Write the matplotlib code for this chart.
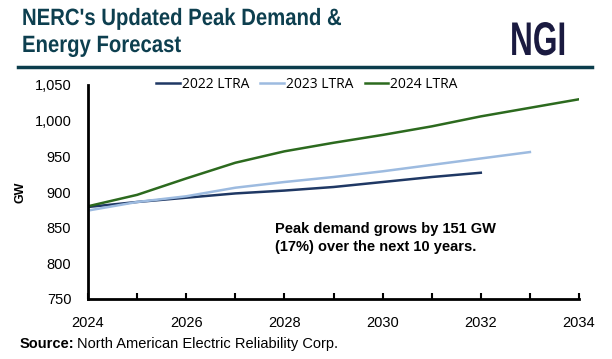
import numpy as np
import matplotlib.pyplot as plt
from matplotlib.patheffects import AbstractPathEffect
from matplotlib.transforms import Affine2D

plt.rcParams['font.family'] = ['Liberation Sans', 'DejaVu Sans']

years_2022 = [2024, 2025, 2026, 2027, 2028, 2029, 2030, 2031, 2032]
ltra_2022 = [879, 886, 892, 898, 902, 907, 914, 921, 927]

years_2023 = [2024, 2025, 2026, 2027, 2028, 2029, 2030, 2031, 2032, 2033]
ltra_2023 = [874, 886, 894, 906, 914, 921, 929, 938, 947, 956]

years_2024 = [2024, 2025, 2026, 2027, 2028, 2029, 2030, 2031, 2032, 2033, 2034]
ltra_2024 = [880, 896, 919, 941, 957, 969, 980, 992, 1006, 1018, 1030]

y_ticks = [750, 800, 850, 900, 950, 1000, 1050]
x_labels = [2024, 2026, 2028, 2030, 2032, 2034]

W, H = 612, 359


class Squeeze(AbstractPathEffect):
    # narrows the glyphs horizontally around a fixed pixel x (condensed look)
    def __init__(self, sx, x0):
        super().__init__()
        self.sx = sx
        self.x0 = x0

    def draw_path(self, renderer, gc, tpath, affine, rgbFace=None):
        affine = affine + Affine2D().translate(-self.x0, 0).scale(self.sx, 1).translate(self.x0, 0)
        renderer.draw_path(gc, tpath, affine, rgbFace)


fig = plt.figure(figsize=(W/100, H/100), dpi=100)
ax = fig.add_axes([88/W, 1-299/H, (579-88)/W, (299-85)/H])

ax.plot(years_2022, ltra_2022, color='#1f3864', lw=1.8, label='2022 LTRA')
ax.plot(years_2023, ltra_2023, color='#9dbbe0', lw=1.8, label='2023 LTRA')
ax.plot(years_2024, ltra_2024, color='#2c6a1e', lw=1.8, label='2024 LTRA')

ax.set_xlim(2024, 2034)
ax.set_ylim(750, 1050)
ax.set_yticks(y_ticks)
ax.set_yticklabels([f'{v:,}' for v in y_ticks], fontsize=10.5)
ax.set_xticks(np.arange(2024, 2035, 1))
ax.set_xticklabels([str(y) if y in x_labels else '' for y in range(2024, 2035)], fontsize=10.5)
ax.tick_params(axis='x', direction='in', length=4, width=1.5, pad=12)
ax.tick_params(axis='y', length=0, pad=12)

for s in ['top', 'right']:
    ax.spines[s].set_visible(False)
for s in ['left', 'bottom']:
    ax.spines[s].set_linewidth(2)

ax.set_ylabel('GW', fontsize=9, fontweight='bold')
ax.yaxis.set_label_coords((27-88)/(579-88), 0.5)

ax.legend(loc='upper center', bbox_to_anchor=(0.446, 1.095), ncol=3, frameon=False,
          handlelength=1.7, handletextpad=0.15, columnspacing=0.8,
          prop={'family': 'Open Sans', 'size': 10})

ax.text(2027.8, 858, 'Peak demand grows by 151 GW\n(17%) over the next 10 years.',
        fontsize=10.5, fontweight='bold', va='top', ha='left', linespacing=1.35)

title_kw = dict(fontsize=17, fontweight='bold', color='#0d3f4f', va='baseline', ha='left',
                path_effects=[Squeeze(0.86, 22)])
fig.text(22/W, 1-25/H, "NERC's Updated Peak Demand &", **title_kw)
fig.text(22/W, 1-52/H, 'Energy Forecast', **title_kw)

fig.text(510/W, 1-55/H, 'NGI', fontsize=34, fontweight='bold', color='#1a1a40',
         va='baseline', ha='left', path_effects=[Squeeze(0.67, 510)])

fig.add_artist(plt.Line2D([18/W, 592/W], [1-67/H, 1-67/H],
                          color='#0b3d4c', lw=2.5, transform=fig.transFigure))

fig.text(20/W, 1-344/H, 'Source:', fontsize=10.5, fontweight='bold', va='center', ha='left')
fig.text(77/W, 1-344/H, 'North American Electric Reliability Corp.', fontsize=10.5,
         va='center', ha='left')

fig.savefig('out.png', dpi=100)
